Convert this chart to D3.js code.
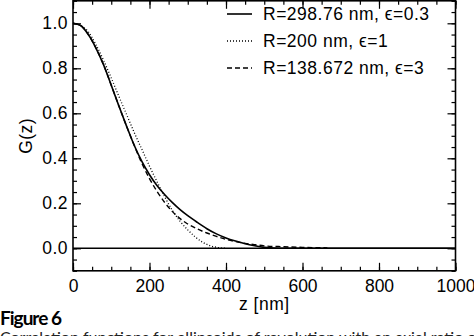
<!DOCTYPE html>
<html><head><meta charset="utf-8">
<script src="https://cdn.jsdelivr.net/npm/d3@7"></script>
<style>html,body{margin:0;padding:0;background:#fff;overflow:hidden}</style>
</head><body><svg id="c" width="474" height="336"></svg>
<script>
// Series: R=298.76 nm, eps=0.3 (solid)
const zSolid = [0,20,40,60,80,100,120,140,160,180,200,220,240,260,280,300,325,350,375,400,425,450,475,500,525,550,1000];
const gSolid = [1.0,0.99,0.95,0.89,0.815,0.725,0.632,0.543,0.458,0.386,0.327,0.278,0.238,0.203,0.172,0.145,0.115,0.087,0.064,0.046,0.032,0.02,0.011,0.004,0.001,0,0];
// Series: R=200 nm, eps=1 (dotted)
const zDot = [0,20,40,60,80,100,120,140,160,180,200,220,240,260,280,300,320,340,360,380,400];
const gDot = [1.0,0.99,0.962,0.905,0.835,0.757,0.675,0.595,0.515,0.44,0.365,0.295,0.228,0.168,0.12,0.082,0.05,0.026,0.011,0.003,0];
// Series: R=138.672 nm, eps=3 (dashed)
const zDash = [0,20,40,60,80,100,120,140,160,180,200,220,240,260,280,300,325,350,375,400,425,450,475,500,550,600,665];
const gDash = [1.0,0.99,0.95,0.89,0.815,0.725,0.632,0.543,0.458,0.378,0.31,0.252,0.203,0.163,0.132,0.108,0.086,0.068,0.053,0.04,0.03,0.022,0.016,0.011,0.007,0.004,0.002];
const legendLabels = ["R=298.76 nm, \u03F5=0.3", "R=200 nm, \u03F5=1", "R=138.672 nm, \u03F5=3"];
const xMajor = [0,200,400,600,800,1000];
const yMajor = [0.0,0.2,0.4,0.6,0.8,1.0];
const xMinor = d3.range(0,1001,50);
const yMinor = d3.range(-0.1,1.101,0.05).map(v=>+v.toFixed(2));

const svg = d3.select("#c");
const L=73, R=455.5, T=0.8, B=270.8;
const x = d3.scaleLinear().domain([0,1000]).range([L,R]);
const y = d3.scaleLinear().domain([-0.1,1.1]).range([B,T]);
const font = "'Liberation Sans', Arial, Helvetica, sans-serif";
const FS = 17.5, LS = 0.5;

function styleAxis(g){ g.select(".domain").remove(); g.selectAll("line").attr("stroke","#000").attr("stroke-width",1.2);
  g.selectAll("text").attr("font-family",font).attr("font-size",FS).attr("letter-spacing",LS).attr("fill","#000"); }

// minor ticks
svg.append("g").attr("transform",`translate(${L},0)`).call(d3.axisLeft(y).tickValues(yMinor).tickSize(-4).tickFormat("")).call(styleAxis);
svg.append("g").attr("transform",`translate(${R},0)`).call(d3.axisRight(y).tickValues(yMinor).tickSize(-4).tickFormat("")).call(styleAxis);
svg.append("g").attr("transform",`translate(0,${B})`).call(d3.axisBottom(x).tickValues(xMinor).tickSize(-4).tickFormat("")).call(styleAxis);
svg.append("g").attr("transform",`translate(0,${T})`).call(d3.axisTop(x).tickValues(xMinor).tickSize(-4).tickFormat("")).call(styleAxis);
// major ticks
svg.append("g").attr("transform",`translate(${L},0)`).call(d3.axisLeft(y).tickValues(yMajor).tickSize(-8).tickPadding(5).tickFormat(d3.format(".1f"))).call(styleAxis);
svg.append("g").attr("transform",`translate(${R},0)`).call(d3.axisRight(y).tickValues(yMajor).tickSize(-8).tickFormat("")).call(styleAxis);
svg.append("g").attr("transform",`translate(0,${B})`).call(d3.axisBottom(x).tickValues(xMajor).tickSize(-8).tickPadding(9).tickFormat(d3.format("d"))).call(styleAxis)
  .call(g=>g.selectAll("text").attr("letter-spacing",0).attr("font-size",17.5));
svg.append("g").attr("transform",`translate(0,${T})`).call(d3.axisTop(x).tickValues(xMajor).tickSize(-8).tickFormat("")).call(styleAxis);

// box
svg.append("rect").attr("x",L).attr("y",T).attr("width",R-L).attr("height",B-T)
  .attr("fill","none").attr("stroke","#000").attr("stroke-width",1.6);

// zero line
svg.append("line").attr("x1",L).attr("x2",R).attr("y1",y(0)).attr("y2",y(0)).attr("stroke","#000").attr("stroke-width",1.5);

const line = d3.line().x(d=>x(d[0])).y(d=>y(d[1])).curve(d3.curveMonotoneX);
const series = [
  {z:zSolid,g:gSolid,dash:null,w:1.6},
  {z:zDot,g:gDot,dash:"1,2",w:1.3},
  {z:zDash,g:gDash,dash:"5,3",w:1.4}
];
series.forEach(s=>{
  svg.append("path").datum(s.z.map((v,i)=>[v,s.g[i]])).attr("d",line)
    .attr("fill","none").attr("stroke","#000").attr("stroke-width",s.w)
    .attr("stroke-dasharray",s.dash);
});

// legend
series.forEach((s,i)=>{
  const yy = 14 + i*27;
  svg.append("line").attr("x1",227).attr("x2",252).attr("y1",yy).attr("y2",yy)
    .attr("stroke","#000").attr("stroke-width",s.w).attr("stroke-dasharray",s.dash);
  svg.append("text").attr("x",263).attr("y",yy+6).attr("font-family",font).attr("font-size",FS)
    .attr("letter-spacing",LS).text(legendLabels[i]);
});

// axis titles
svg.append("text").attr("x",(L+R)/2).attr("y",310).attr("text-anchor","middle")
  .attr("font-family",font).attr("font-size",FS).attr("letter-spacing",LS).text("z  [nm]");
svg.append("text").attr("transform",`translate(32,${(T+B)/2}) rotate(-90)`).attr("text-anchor","middle")
  .attr("font-family",font).attr("font-size",FS).attr("letter-spacing",LS).text("G(z)");

// figure caption
svg.append("text").attr("x",0).attr("y",325).attr("font-family","Lato, 'Open Sans', sans-serif")
  .attr("font-weight","bold").attr("font-size",19).attr("textLength",62).text("Figure 6");
svg.append("text").attr("x",0).attr("y",343).attr("font-family","Lato, 'Open Sans', sans-serif")
  .attr("font-size",16).attr("fill","#222").text("Correlation functions for ellipsoids of revolution with an axial ratio of E");
</script></body></html>
